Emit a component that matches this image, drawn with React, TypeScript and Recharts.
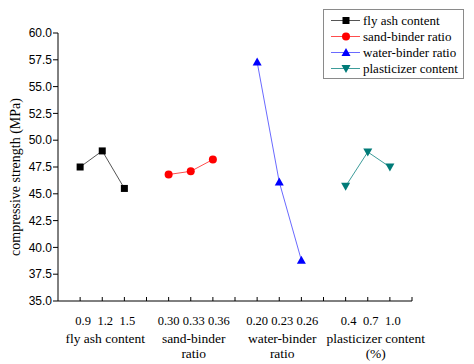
import React from 'react';
import { LineChart, Line, XAxis, YAxis, Legend } from 'recharts';

const seriesNames = ['fly ash content', 'sand-binder ratio', 'water-binder ratio', 'plasticizer content'];
const groupTitles = [['fly ash content'], ['sand-binder', 'ratio'], ['water-binder', 'ratio'], ['plasticizer content', '(%)']];

const flyAshLevels = ['0.9', '1.2', '1.5'];
const flyAshStrength = [47.5, 49.0, 45.5];
const sandBinderLevels = ['0.30', '0.33', '0.36'];
const sandBinderStrength = [46.8, 47.1, 48.2];
const waterBinderLevels = ['0.20', '0.23', '0.26'];
const waterBinderStrength = [57.3, 46.1, 38.8];
const plasticizerLevels = ['0.4', '0.7', '1.0'];
const plasticizerStrength = [45.7, 48.9, 47.5];

const yTicks = [35, 37.5, 40, 42.5, 45, 47.5, 50, 52.5, 55, 57.5, 60];

const levels = [flyAshLevels, sandBinderLevels, waterBinderLevels, plasticizerLevels];
const strengths = [flyAshStrength, sandBinderStrength, waterBinderStrength, plasticizerStrength];

const seriesStyle = [
  { line: '#555555', marker: '#000000', shape: 'square' },
  { line: '#ff4d4d', marker: '#ff0000', shape: 'circle' },
  { line: '#6a6aff', marker: '#0000ff', shape: 'triangle' },
  { line: '#3d9c9a', marker: '#007b78', shape: 'triangleDown' },
];

const slot = (g: number, i: number) => g * 4 + i + 1;
const seriesData = strengths.map((arr, g) => arr.map((v, i) => ({ x: slot(g, i), y: v, level: levels[g][i] })));
const xTicks = Array.from({ length: 16 }, (_, k) => k + 1);

const tickLabel = (k: number) => {
  const g = Math.floor((k - 1) / 4);
  const i = (k - 1) % 4;
  return (levels[g] && levels[g][i]) || '';
};

const SERIF = '"Liberation Serif", "Times New Roman", serif';
const SANS = '"Liberation Sans", Arial, sans-serif';

const Marker = ({ shape, cx, cy, color }: any) => {
  if (cx == null || cy == null) return null;
  switch (shape) {
    case 'square':
      return <rect x={cx - 3.5} y={cy - 3.5} width={7} height={7} fill={color} />;
    case 'circle':
      return <circle cx={cx} cy={cy} r={4} fill={color} />;
    case 'triangle':
      return <polygon points={`${cx},${cy - 4.5} ${cx - 4.5},${cy + 3.5} ${cx + 4.5},${cy + 3.5}`} fill={color} />;
    default:
      return <polygon points={`${cx},${cy + 4.5} ${cx - 4.5},${cy - 3.5} ${cx + 4.5},${cy - 3.5}`} fill={color} />;
  }
};

const XTick = (props: any) => {
  const { x, y, payload } = props;
  const k = payload.value;
  const g = Math.floor((k - 1) / 4);
  const i = (k - 1) % 4;
  const label = tickLabel(k);
  const spread = label.length > 3 ? (i - 1) * 3 : 0;
  const isMiddle = i === 1 && groupTitles[g];
  return (
    <g>
      <text x={x + 3 + spread} y={y + 24} textAnchor="middle" fontFamily={SERIF} fontSize={12.5} fill="#000">
        {label}
      </text>
      {isMiddle &&
        groupTitles[g].map((t, j) => (
          <text key={j} x={x + (g === 3 ? 8 : 3)} y={y + 42 + j * 15} textAnchor="middle" fontFamily={SERIF} fontSize={13.5} fill="#000">
            {t}
          </text>
        ))}
    </g>
  );
};

const renderLegend = (props: any) => {
  const payload = props.payload || [];
  return (
    <svg width={141} height={70} style={{ display: 'block' }}>
      <rect x={0.5} y={0.5} width={140} height={69} fill="#fff" stroke="#8a8a8a" strokeWidth={1} />
      {payload.map((entry: any, idx: number) => {
        const si = seriesNames.indexOf(entry.value);
        const st = seriesStyle[si >= 0 ? si : idx];
        const cy = 11.5 + idx * 16;
        return (
          <g key={idx}>
            <line x1={8} y1={cy} x2={37} y2={cy} stroke={st.line} strokeWidth={1} />
            <Marker shape={st.shape} cx={23} cy={cy} color={st.marker} />
            <text x={40} y={cy} dominantBaseline="central" fontFamily={SERIF} fontSize={13} fill="#000">
              {entry.value}
            </text>
          </g>
        );
      })}
    </svg>
  );
};

const YLabel = (props: any) => {
  const vb = props.viewBox || {};
  const cx = (vb.x || 0) + 15;
  const cy = (vb.y || 0) + (vb.height || 0) / 2 + 10;
  return (
    <text
      x={cx}
      y={cy}
      transform={`rotate(-90, ${cx}, ${cy})`}
      textAnchor="middle"
      dominantBaseline="central"
      fontFamily={SERIF}
      fontSize={14}
      fill="#000"
    >
      compressive strength (MPa)
    </text>
  );
};

export default function App() {
  return (
    <div style={{ position: 'absolute', left: 0, top: 0, width: 474, height: 364, background: '#fff' }}>
      <LineChart width={474} height={364} margin={{ top: 33, right: 62, bottom: 3, left: 0 }}>
        <XAxis
          type="number"
          dataKey="x"
          domain={[0, 16]}
          ticks={xTicks}
          interval={0}
          allowDataOverflow
          height={60}
          axisLine={{ stroke: '#000' }}
          tickLine={{ stroke: '#000' }}
          tickSize={-4}
          tickMargin={4}
          tick={<XTick />}
        />
        <YAxis
          type="number"
          domain={[35, 60]}
          ticks={yTicks}
          interval={0}
          width={58}
          axisLine={{ stroke: '#000' }}
          tickLine={{ stroke: '#000' }}
          tickSize={5}
          tickMargin={1}
          tickFormatter={(v: number) => v.toFixed(1)}
          tick={{ fontFamily: SANS, fontSize: 12, fill: '#000' }}
          label={(p: any) => <YLabel {...p} />}
        />
        <Legend
          content={renderLegend}
          itemSorter={(item: any) => seriesNames.indexOf(item.value)}
          wrapperStyle={{ position: 'absolute', left: 323, top: 9, width: 141, height: 0, overflow: 'visible' }}
        />
        {seriesData.map((d, g) => (
          <Line
            key={seriesNames[g]}
            data={d}
            dataKey="y"
            name={seriesNames[g]}
            stroke={seriesStyle[g].line}
            strokeWidth={1}
            isAnimationActive={false}
            legendType="line"
            dot={(p: any) => <Marker key={`${g}-${p.index}`} shape={seriesStyle[g].shape} cx={p.cx} cy={p.cy} color={seriesStyle[g].marker} />}
            activeDot={false}
          />
        ))}
      </LineChart>
    </div>
  );
}
